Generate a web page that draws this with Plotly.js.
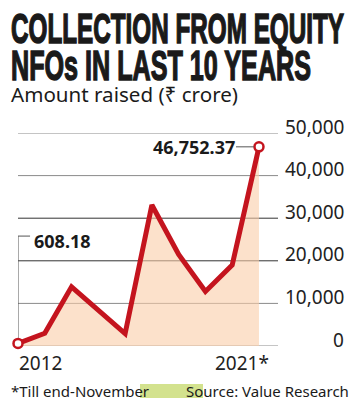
<!DOCTYPE html>
<html><head><meta charset="utf-8">
<script src="https://cdn.plot.ly/plotly-3.0.1.min.js"></script>
<style>body{margin:0;background:#fff}</style>
</head><body><div id="chart" style="width:357px;height:400px"></div>
<script>
// ---- data ----
const years = [2012, 2013, 2014, 2015, 2016, 2017, 2018, 2019, 2020, 2021];
const amounts = [608.18, 3000, 13900, 8300, 2900, 33100, 21500, 12800, 19000, 46752.37];
const yTickVals = [0, 10000, 20000, 30000, 40000, 50000];
const yTickText = ['0', '10,000', '20,000', '30,000', '40,000', '50,000'];
const xTickVals = [2012, 2021];
const xTickText = ['2012', '2021*'];
const titleLines = ['COLLECTION FROM EQUITY', 'NFOs IN LAST 10 YEARS'];
const subtitle = 'Amount raised (₹ crore)';
const footnote = '*Till end-November';
const source = 'Source: Value Research';
const firstLabel = '608.18';
const lastLabel = '46,752.37';

// ---- styles ----
const gridColors = ['#8a8a8a', '#8a8a8a', '#333', '#333', '#8a8a8a', '#8a8a8a'];

// ---- layout helpers ----
const W = 357, H = 400, L = 18, R = 278, T = 133, B = 346;
const px = x => (x - L) / (R - L);
const py = y => (B - y) / (B - T);
const RED = '#c4141e';
const SANS = 'Noto Sans, Open Sans, DejaVu Sans, sans-serif';
const HEAD = 'Liberation Sans, Arial, sans-serif';
const last = years.length - 1;

const data = [
  {x: years, y: amounts, type: 'scatter', mode: 'lines', fill: 'tozeroy',
   fillcolor: 'rgba(250,205,168,0.6)', line: {color: RED, width: 5},
   cliponaxis: false, hoverinfo: 'skip'},
  {x: [years[0], years[last]], y: [amounts[0], amounts[last]], type: 'scatter', mode: 'markers',
   marker: {size: 9, color: '#fff', line: {color: RED, width: 2.5}}, cliponaxis: false, hoverinfo: 'skip'}
];

// index -> {len: text width px, sy: vertical stretch}
const fit = {};
const ann = [];
function addFit(a, f) { fit[ann.length] = f; ann.push(a); }

addFit({text: titleLines[0], xref: 'paper', yref: 'paper', x: px(10), y: py(27.5), xanchor: 'left', yanchor: 'middle', align: 'left',
  showarrow: false, borderpad: 0, font: {family: HEAD, size: 24.3, weight: 'bold', color: '#1a1a1a'}}, {len: 333, sy: 1.77, heavy: true});
addFit({text: titleLines[1], xref: 'paper', yref: 'paper', x: px(10), y: py(65), xanchor: 'left', yanchor: 'middle', align: 'left',
  showarrow: false, borderpad: 0, font: {family: HEAD, size: 25.1, weight: 'bold', color: '#1a1a1a'}}, {len: 300, sy: 1.66, heavy: true});
addFit({text: subtitle, xref: 'paper', yref: 'paper', x: px(10), y: py(94.5), xanchor: 'left', yanchor: 'middle', align: 'left',
  showarrow: false, borderpad: 0, font: {family: SANS, size: 20, color: '#1a1a1a'}}, {len: 227, sy: 1});
ann.push({text: footnote, xref: 'paper', yref: 'paper', x: px(10), y: py(391), xanchor: 'left', yanchor: 'middle', align: 'left', showarrow: false, borderpad: 0,
  font: {family: SANS, size: 15, color: '#1a1a1a'}});
ann.push({text: source, xref: 'paper', yref: 'paper', x: px(350), y: py(391), xanchor: 'right', yanchor: 'middle', align: 'left', showarrow: false, borderpad: 0,
  font: {family: SANS, size: 15, color: '#1a1a1a'}});
yTickVals.forEach((v, i) => ann.push({text: yTickText[i], xref: 'paper', yref: 'y', x: 1, xshift: 67, y: v, yshift: 6.5,
  xanchor: 'right', yanchor: 'middle', showarrow: false, borderpad: 0, font: {family: SANS, size: 19, color: '#222'}}));
ann.push({text: xTickText[0], xref: 'x', yref: 'paper', x: xTickVals[0], y: py(363), xanchor: 'left', yanchor: 'middle', showarrow: false, borderpad: 0,
  font: {family: SANS, size: 19, color: '#222'}});
ann.push({text: xTickText[1], xref: 'x', yref: 'paper', x: xTickVals[1], xshift: 11, y: py(363), xanchor: 'right', yanchor: 'middle', showarrow: false, borderpad: 0,
  font: {family: SANS, size: 19, color: '#222'}});
ann.push({text: firstLabel, xref: 'x', yref: 'y', x: years[0], xshift: 15, y: 25800, yshift: -4.5, xanchor: 'left', yanchor: 'middle', showarrow: false, borderpad: 0,
  font: {family: SANS, size: 18, weight: 'bold', color: '#1a1a1a'}});
ann.push({text: lastLabel, xref: 'x', yref: 'y', x: years[last], y: amounts[last], ax: -23, ay: 0, xanchor: 'right', yanchor: 'middle',
  showarrow: true, arrowhead: 0, arrowwidth: 1, arrowcolor: '#555', standoff: 5, borderpad: 0,
  font: {family: SANS, size: 18, weight: 'bold', color: '#1a1a1a'}});

const shapes = yTickVals.map((v, i) => ({type: 'line', layer: 'below', xref: 'paper', yref: 'y', x0: 0, x1: 1, y0: v, y1: v,
  line: {color: gridColors[i], width: 1}}));
shapes.push(
  {type: 'line', xref: 'x', yref: 'y', x0: years[0], x1: years[0], y0: amounts[0], y1: 25800, line: {color: '#555', width: 1}, layer: 'below'},
  {type: 'line', xref: 'x', yref: 'y', x0: years[0], x1: 2012.45, y0: 25800, y1: 25800, line: {color: '#555', width: 1}},
  {type: 'rect', xref: 'paper', yref: 'paper', x0: px(140), x1: px(203), y0: py(398), y1: py(384), fillcolor: '#d3e28e', line: {width: 0}}
);

const layout = {
  width: W, height: H, margin: {l: L, r: W - R, t: T, b: H - B, pad: 0},
  paper_bgcolor: '#fff', plot_bgcolor: '#fff', showlegend: false,
  xaxis: {range: [2012, 2021.71], showgrid: false, zeroline: false, showticklabels: false, showline: false, ticks: ''},
  yaxis: {range: [0, 50000], side: 'right', tickvals: yTickVals, showticklabels: false, showgrid: false,
          zeroline: false, showline: false, ticks: ''},
  annotations: ann, shapes: shapes
};

Plotly.newPlot('chart', data, layout, {staticPlot: true}).then(gd => {
  Object.entries(fit).forEach(([i, f]) => {
    const t = gd.querySelector('.annotation[data-index="' + i + '"] .annotation-text');
    if (!t) return;
    t.setAttribute('textLength', f.len);
    t.setAttribute('lengthAdjust', 'spacingAndGlyphs');
    if (f.sy !== 1) {
      const bb = t.getBBox();
      const cy = bb.y + bb.height / 2;
      t.setAttribute('transform', 'translate(0,' + cy + ') scale(1,' + f.sy + ') translate(0,' + (-cy) + ')');
    }
    if (f.heavy) { t.style.stroke = '#1a1a1a'; t.style.strokeWidth = '0.9px'; }
  });
});
</script>
</body></html>
